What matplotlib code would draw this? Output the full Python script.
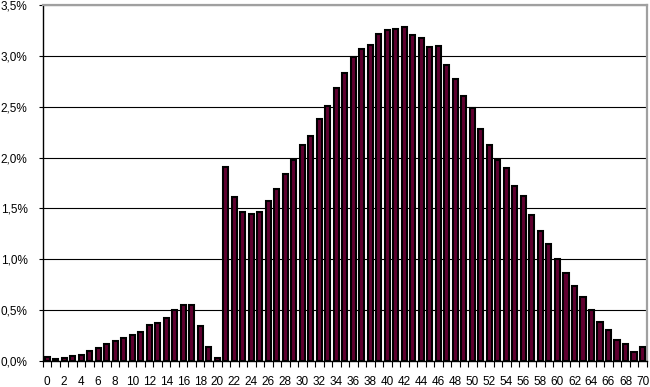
import numpy as np
import matplotlib
matplotlib.use('Agg')
import matplotlib.pyplot as plt
from matplotlib.ticker import FuncFormatter, MultipleLocator

# bar values in percent, categories 0..70
categories = list(range(71))
values = [
    0.04, 0.02, 0.03, 0.045, 0.06, 0.095, 0.125, 0.17, 0.20, 0.23,
    0.255, 0.29, 0.35, 0.37, 0.42, 0.50, 0.55, 0.55, 0.345, 0.14,
    0.03, 1.91, 1.61, 1.465, 1.45, 1.47, 1.57, 1.69, 1.835, 1.98,
    2.12, 2.21, 2.38, 2.51, 2.68, 2.835, 2.99, 3.07, 3.11, 3.215,
    3.25, 3.26, 3.28, 3.21, 3.18, 3.09, 3.095, 2.91, 2.77, 2.61,
    2.49, 2.28, 2.12, 1.98, 1.895, 1.72, 1.62, 1.435, 1.28, 1.15,
    1.005, 0.87, 0.735, 0.625, 0.50, 0.385, 0.31, 0.21, 0.165, 0.09,
    0.14,
]
x_labels = [str(c) for c in categories[::2]]

plt.rcParams['font.family'] = ['Liberation Sans', 'DejaVu Sans']

fig = plt.figure(figsize=(6.5, 3.87), dpi=100)
ax = fig.add_axes([0.066, 0.067, 0.929, 0.92])

ax.bar(categories, values, width=0.6, color='#600030', edgecolor='black', linewidth=1.5, zorder=3)

ax.set_xlim(-0.5, 70.5)
ax.set_ylim(0, 3.5)

ax.yaxis.set_major_locator(MultipleLocator(0.5))
ax.yaxis.set_major_formatter(FuncFormatter(lambda v, p: f'{v:.1f}%'.replace('.', ',')))
ax.grid(axis='y', color='black', linewidth=0.8, zorder=0)

ax.set_xticks(categories[::2])
ax.set_xticklabels(x_labels)
ax.set_xticks(np.arange(-0.5, 71, 1), minor=True)
ax.tick_params(axis='x', which='major', length=0, pad=11, labelsize=8.5)
ax.tick_params(axis='x', which='minor', length=4, width=0.8, direction='out')
ax.tick_params(axis='y', length=3, width=0.8, direction='out', labelsize=8.5, pad=8)

for side in ['top', 'right']:
    ax.spines[side].set_color('#a0a0a0')
    ax.spines[side].set_linewidth(1.6)
ax.spines['left'].set_linewidth(1.0)
ax.spines['bottom'].set_linewidth(1.0)

fig.savefig('out.png', dpi=100)
